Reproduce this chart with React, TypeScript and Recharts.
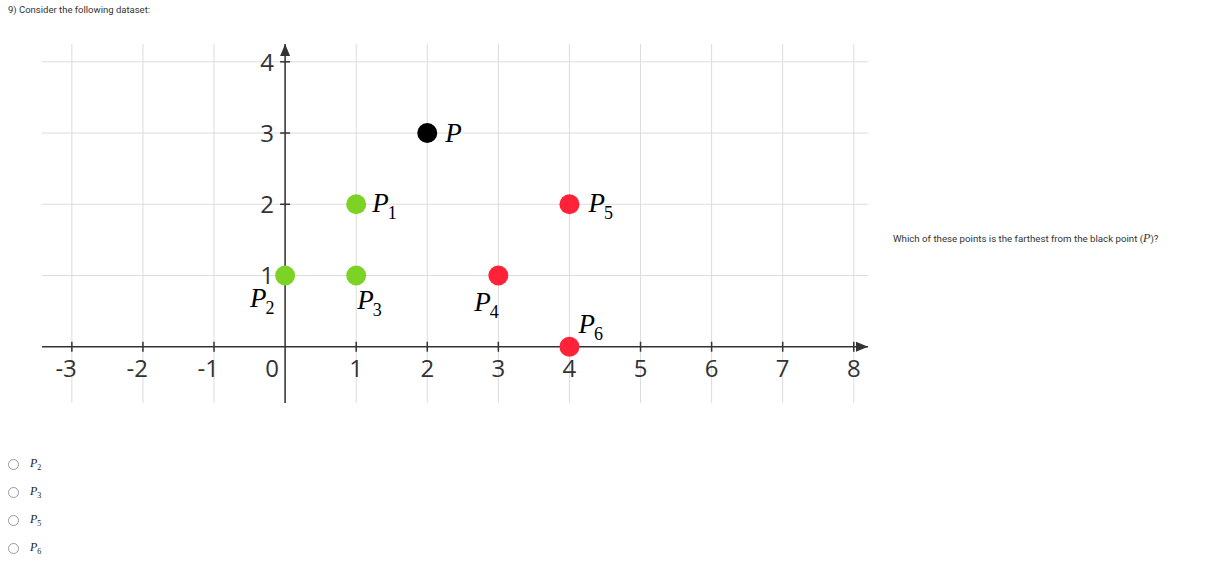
import React from "react";
import {
  ScatterChart,
  Scatter,
  XAxis,
  YAxis,
  ReferenceLine,
  ReferenceDot,
} from "recharts";

// axis ranges and ticks
const xDomain: [number, number] = [-3.42, 8.2];
const yDomain: [number, number] = [-0.79, 4.25];
const xTicks = [-3, -2, -1, 0, 1, 2, 3, 4, 5, 6, 7, 8];
const yTicks = [1, 2, 3, 4];

// points of the dataset
const blackPoints = [{ name: "P", sub: "", x: 2, y: 3 }];
const greenPoints = [
  { name: "P", sub: "1", x: 1, y: 2 },
  { name: "P", sub: "2", x: 0, y: 1 },
  { name: "P", sub: "3", x: 1, y: 1 },
];
const redPoints = [
  { name: "P", sub: "4", x: 3, y: 1 },
  { name: "P", sub: "5", x: 4, y: 2 },
  { name: "P", sub: "6", x: 4, y: 0 },
];

const answers = ["2", "3", "5", "6"];

// where each label sits relative to its dot
const labelOffset: Record<string, [number, number]> = {
  "": [18, 9],
  "1": [16, 8],
  "2": [-35, 32],
  "3": [1, 34],
  "4": [-24, 36],
  "5": [19, 8],
  "6": [9, -14],
};

const AXIS = "#333";
const GRID = "#dcdcdc";
const TICK_FONT = "'Open Sans', sans-serif";
const MATH_FONT = "'Liberation Serif', serif";

function PointShape(props: any) {
  const { cx, cy, payload, fill } = props;
  const [dx, dy] = labelOffset[payload.sub];
  return (
    <g>
      <circle cx={cx} cy={cy} r={10} fill={fill} />
      <text
        x={cx + dx}
        y={cy + dy}
        fontFamily={MATH_FONT}
        fontStyle="italic"
        fontSize={27}
        fill="#000"
      >
        {payload.name}
        {payload.sub && (
          <tspan dx={-1} dy={7} fontStyle="normal" fontSize={18}>
            {payload.sub}
          </tspan>
        )}
      </text>
    </g>
  );
}

function XTick(props: any) {
  const { cx, cy, label } = props;
  if (label === 0) {
    return (
      <text x={cx - 13} y={cy + 30} textAnchor="middle" fontFamily={TICK_FONT} fontSize={24} fill={AXIS}>
        0
      </text>
    );
  }
  return (
    <g>
      <line x1={cx} y1={cy - 5} x2={cx} y2={cy + 5} stroke={AXIS} strokeWidth={1.5} />
      <text
        x={label < 0 ? cx + 5 : cx}
        y={cy + 30}
        textAnchor={label < 0 ? "end" : "middle"}
        fontFamily={TICK_FONT}
        fontSize={24}
        fill={AXIS}
      >
        {label}
      </text>
    </g>
  );
}

function YTick(props: any) {
  const { cx, cy, label } = props;
  return (
    <g>
      <line x1={cx - 5} y1={cy} x2={cx + 5} y2={cy} stroke={AXIS} strokeWidth={1.5} />
      <text x={cx - 11} y={cy + 9} textAnchor="end" fontFamily={TICK_FONT} fontSize={24} fill={AXIS}>
        {label}
      </text>
    </g>
  );
}

function ArrowRight(props: any) {
  const { cx, cy } = props;
  return <path d={`M${cx},${cy} L${cx - 12},${cy - 5} L${cx - 12},${cy + 5} Z`} fill={AXIS} />;
}

function ArrowUp(props: any) {
  const { cx, cy } = props;
  return <path d={`M${cx},${cy} L${cx - 5},${cy + 12} L${cx + 5},${cy + 12} Z`} fill={AXIS} />;
}

function Radio({ sub, top }: { sub: string; top: number }) {
  return (
    <div style={{ position: "absolute", left: 8, top, display: "flex", alignItems: "center", height: 14 }}>
      <span
        style={{
          width: 9,
          height: 9,
          borderRadius: "50%",
          border: "1px solid #999",
          display: "inline-block",
          marginRight: 11,
        }}
      />
      <span style={{ fontFamily: MATH_FONT, fontSize: 12, color: "#222" }}>
        <i>P</i>
        <sub style={{ fontSize: 8 }}>{sub}</sub>
      </span>
    </div>
  );
}

export default function App() {
  return (
    <div style={{ position: "absolute", left: 0, top: 0, width: 1222, height: 566, background: "#fff" }}>
      <div
        style={{
          position: "absolute",
          left: 8,
          top: 4,
          fontFamily: "Roboto, sans-serif",
          fontSize: 9.5,
          color: "#333",
          lineHeight: "12px",
        }}
      >
        9) Consider the following dataset:
      </div>

      <div style={{ position: "absolute", left: 0, top: 0 }}>
        <ScatterChart width={900} height={420} margin={{ top: 44, right: 32, bottom: 17, left: 42 }}>
          <XAxis type="number" dataKey="x" domain={xDomain} ticks={xTicks} allowDataOverflow hide />
          <YAxis type="number" dataKey="y" domain={yDomain} ticks={[0, ...yTicks]} allowDataOverflow hide />
          {xTicks.map((t) => (
            <ReferenceLine key={"gx" + t} x={t} stroke={GRID} strokeWidth={1} />
          ))}
          {yTicks.map((t) => (
            <ReferenceLine key={"gy" + t} y={t} stroke={GRID} strokeWidth={1} />
          ))}
          <ReferenceLine y={0} stroke={AXIS} strokeWidth={1.5} />
          <ReferenceLine x={0} stroke={AXIS} strokeWidth={1.5} />
          <ReferenceDot x={xDomain[1]} y={0} ifOverflow="visible" shape={ArrowRight} />
          <ReferenceDot x={0} y={yDomain[1]} ifOverflow="visible" shape={ArrowUp} />
          {xTicks.map((t) => (
            <ReferenceDot key={"x" + t} x={t} y={0} ifOverflow="visible" shape={(p: any) => <XTick {...p} label={t} />} />
          ))}
          {yTicks.map((t) => (
            <ReferenceDot key={"y" + t} x={0} y={t} ifOverflow="visible" shape={(p: any) => <YTick {...p} label={t} />} />
          ))}
          <Scatter data={blackPoints} fill="#000" shape={PointShape} isAnimationActive={false} />
          <Scatter data={greenPoints} fill="#7dd226" shape={PointShape} isAnimationActive={false} />
          <Scatter data={redPoints} fill="#ff2239" shape={PointShape} isAnimationActive={false} />
        </ScatterChart>
      </div>

      <div
        style={{
          position: "absolute",
          left: 893,
          top: 231,
          fontFamily: "Roboto, sans-serif",
          fontSize: 9.7,
          color: "#333",
          lineHeight: "14px",
          whiteSpace: "nowrap",
        }}
      >
        Which of these points is the farthest from the black point (
        <i style={{ fontFamily: MATH_FONT, fontSize: 12 }}>P</i>)?
      </div>

      {answers.map((s, i) => (
        <Radio key={s} sub={s} top={457 + i * 28} />
      ))}
    </div>
  );
}
